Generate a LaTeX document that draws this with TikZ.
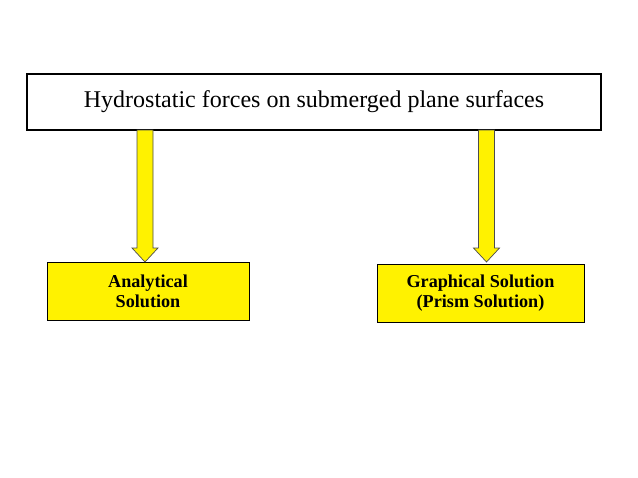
\documentclass[tikz,border=0pt]{standalone}
\usepackage{fontspec}
\setmainfont{Liberation Serif}
\tikzset{
  titlebox/.style={draw=black,line width=1pt,fill=white,minimum width=574*0.03cm,minimum height=56*0.03cm,font=\fontsize{20.5}{24}\selectfont},
  solbox/.style={draw=black,line width=0.8pt,fill=yellow,minimum height=58*0.03cm,align=center,font=\fontsize{15.5}{17}\selectfont\bfseries},
  yarrow/.style={fill=yellow,draw=black!70,line width=0.6pt}
}
\begin{document}
\begin{tikzpicture}[x=0.03cm,y=-0.03cm]
\useasboundingbox (0,0) rectangle (638,478);
\node[titlebox] (T) at (314,102) {Hydrostatic forces on submerged plane surfaces};
\node[solbox,minimum width=202*0.03cm] (A) at (148,291) {Analytical\\Solution};
\node[solbox,minimum width=207*0.03cm] (G) at (480.5,293) {Graphical Solution\\(Prism Solution)};
% arrows
\foreach \cx/\dst in {145/A,486.5/G} {
  \draw[yarrow] (\cx-8,130) -- (\cx-8,248) -- (\cx-13,248) -- (\cx,262)
    -- (\cx+13,248) -- (\cx+8,248) -- (\cx+8,130) -- cycle;
}
\end{tikzpicture}
\end{document}
